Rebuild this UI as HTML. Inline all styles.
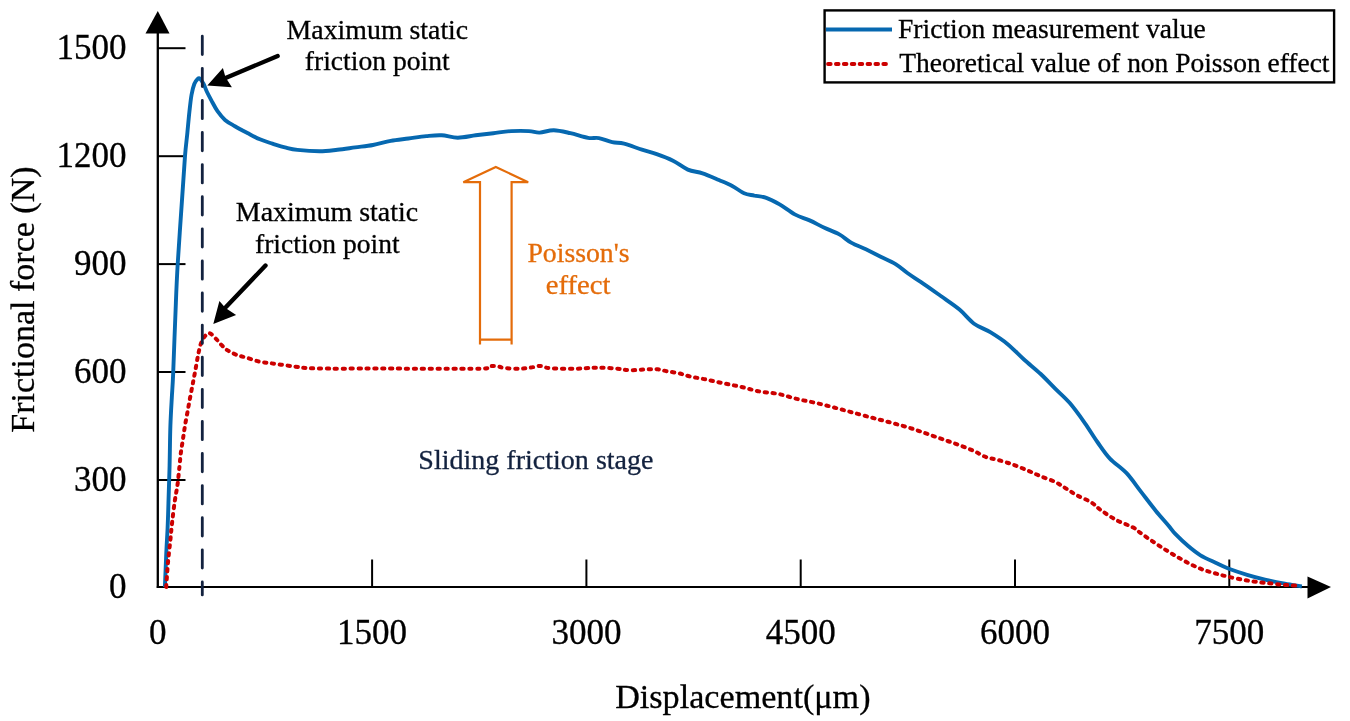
<!DOCTYPE html>
<html><head><meta charset="utf-8"><title>Frictional force vs displacement</title>
<style>
html,body{margin:0;padding:0;background:#fff;}
body{width:1350px;height:721px;overflow:hidden;}
svg{display:block;}
text{font-family:"Liberation Serif","Times New Roman",serif;fill:#000;stroke:#000;stroke-width:0.3px;}
.ax{font-size:35px;}
.tt{font-size:34px;}
.an{font-size:27.5px;}
.lg{font-size:27.7px;}
</style></head><body>
<svg width="1350" height="721" viewBox="0 0 1350 721">
<rect width="1350" height="721" fill="#fff"/>
<line x1="157.8" y1="30" x2="157.8" y2="588" stroke="#000" stroke-width="2.3"/>
<polygon points="145.5,33.5 169.5,33.5 157.8,11" fill="#000"/>
<line x1="156.8" y1="587" x2="1312" y2="587" stroke="#000" stroke-width="2.2"/>
<polygon points="1307.5,576.5 1307.5,598.5 1331,587" fill="#000"/>
<line x1="157.8" y1="48.2" x2="185.5" y2="48.2" stroke="#000" stroke-width="2"/>
<text x="126.5" y="58.8" class="ax" text-anchor="end">1500</text>
<line x1="157.8" y1="156.2" x2="185.5" y2="156.2" stroke="#000" stroke-width="2"/>
<text x="126.5" y="166.8" class="ax" text-anchor="end">1200</text>
<line x1="157.8" y1="264.1" x2="185.5" y2="264.1" stroke="#000" stroke-width="2"/>
<text x="126.5" y="274.7" class="ax" text-anchor="end">900</text>
<line x1="157.8" y1="372" x2="185.5" y2="372" stroke="#000" stroke-width="2"/>
<text x="126.5" y="382.6" class="ax" text-anchor="end">600</text>
<line x1="157.8" y1="480" x2="185.5" y2="480" stroke="#000" stroke-width="2"/>
<text x="126.5" y="490.6" class="ax" text-anchor="end">300</text>
<text x="126.5" y="597.6" class="ax" text-anchor="end">0</text>
<text x="157.8" y="644" class="ax" text-anchor="middle">0</text>
<line x1="372.1" y1="559.5" x2="372.1" y2="587" stroke="#000" stroke-width="2"/>
<text x="372.1" y="644" class="ax" text-anchor="middle">1500</text>
<line x1="586.4" y1="559.5" x2="586.4" y2="587" stroke="#000" stroke-width="2"/>
<text x="586.4" y="644" class="ax" text-anchor="middle">3000</text>
<line x1="800.7" y1="559.5" x2="800.7" y2="587" stroke="#000" stroke-width="2"/>
<text x="800.7" y="644" class="ax" text-anchor="middle">4500</text>
<line x1="1015.0" y1="559.5" x2="1015.0" y2="587" stroke="#000" stroke-width="2"/>
<text x="1015.0" y="644" class="ax" text-anchor="middle">6000</text>
<line x1="1229.3" y1="559.5" x2="1229.3" y2="587" stroke="#000" stroke-width="2"/>
<text x="1229.3" y="644" class="ax" text-anchor="middle">7500</text>
<path d="M164.9 587.0 C165.1 581.7 165.8 564.8 166.2 555.0 C166.6 545.2 167.2 537.0 167.6 528.0 C168.0 519.0 168.2 511.5 168.5 501.0 C168.8 490.5 169.3 477.6 169.6 465.0 C169.9 452.4 170.0 436.8 170.4 425.6 C170.8 414.4 171.3 406.6 171.8 397.8 C172.3 389.0 172.6 387.4 173.2 372.8 C173.8 358.2 174.8 328.1 175.6 310.0 C176.3 291.9 176.6 282.3 177.7 264.0 C178.8 245.7 180.8 218.0 182.0 200.0 C183.2 182.0 184.1 167.2 185.0 156.0 C185.9 144.8 186.7 139.9 187.4 132.5 C188.1 125.1 188.7 118.0 189.4 111.7 C190.1 105.5 190.7 99.6 191.5 95.0 C192.3 90.4 193.3 86.6 194.3 84.0 C195.3 81.4 196.6 80.1 197.5 79.2 C198.4 78.3 199.0 77.9 200.0 78.7 C201.0 79.5 202.3 81.6 203.5 83.8 C204.7 86.0 205.6 89.1 207.0 92.0 C208.4 94.9 210.1 98.0 211.8 101.2 C213.6 104.4 215.3 108.1 217.5 111.2 C219.7 114.3 222.1 117.4 225.0 119.9 C227.9 122.4 231.2 124.0 234.9 126.2 C238.6 128.4 243.2 130.8 247.4 133.0 C251.6 135.2 255.7 137.5 259.9 139.3 C264.1 141.1 268.2 142.3 272.4 143.7 C276.6 145.0 280.7 146.4 284.9 147.4 C289.1 148.4 291.6 149.3 297.4 149.9 C303.2 150.5 312.9 151.2 319.6 151.2 C326.3 151.2 331.5 150.4 337.4 149.8 C343.3 149.2 349.3 148.2 355.2 147.4 C361.1 146.6 367.1 146.1 373.0 145.0 C378.9 143.9 384.8 142.0 390.7 140.9 C396.6 139.8 402.6 139.3 408.5 138.5 C414.4 137.7 420.8 136.6 426.3 136.1 C431.8 135.6 436.4 135.0 441.7 135.3 C446.9 135.6 452.1 137.7 457.8 137.7 C463.5 137.7 469.7 136.1 475.6 135.3 C481.5 134.6 487.4 133.9 493.3 133.2 C499.2 132.5 505.2 131.4 511.1 131.1 C517.0 130.8 524.1 130.8 528.9 131.1 C533.6 131.3 535.5 132.8 539.6 132.6 C543.8 132.4 548.7 130.1 553.8 130.2 C558.9 130.3 564.7 131.9 570.4 133.2 C576.1 134.5 583.4 137.1 588.1 137.9 C592.9 138.7 594.9 137.4 598.9 138.1 C602.9 138.8 608.0 141.3 612.2 142.2 C616.4 143.1 619.2 142.5 624.1 143.7 C629.0 144.9 636.5 147.9 641.9 149.6 C647.3 151.3 651.5 152.2 656.7 154.1 C661.9 155.9 667.8 158.1 673.0 160.7 C678.2 163.3 682.9 167.5 687.8 169.6 C692.7 171.7 697.4 171.6 702.6 173.3 C707.8 175.0 714.0 177.9 718.9 180.0 C723.8 182.1 728.0 183.7 732.2 185.9 C736.4 188.1 740.4 191.7 744.1 193.3 C747.8 194.9 750.7 194.8 754.4 195.6 C758.1 196.3 762.1 196.3 766.3 197.8 C770.5 199.3 774.9 201.6 779.6 204.4 C784.4 207.2 789.8 211.7 794.8 214.4 C799.8 217.1 804.7 218.2 809.6 220.4 C814.5 222.6 819.5 225.5 824.4 227.8 C829.3 230.1 834.8 231.9 839.3 234.4 C843.8 236.9 846.7 240.1 851.1 242.6 C855.5 245.1 861.0 247.0 865.9 249.3 C870.8 251.7 875.8 254.2 880.7 256.7 C885.7 259.2 891.2 261.4 895.6 264.1 C900.0 266.8 903.2 270.0 907.4 273.0 C911.6 276.0 915.1 278.1 920.7 281.9 C926.3 285.7 934.3 291.4 940.8 296.0 C947.3 300.6 954.0 304.9 959.5 309.5 C965.0 314.1 968.9 319.9 974.1 323.7 C979.3 327.5 985.2 329.0 990.7 332.4 C996.2 335.8 1001.9 339.4 1007.4 343.9 C1012.9 348.4 1018.5 354.5 1024.0 359.5 C1029.5 364.5 1035.5 369.1 1040.7 374.0 C1045.9 378.9 1050.4 383.8 1055.2 388.6 C1060.0 393.5 1064.8 397.3 1069.8 403.1 C1074.8 408.9 1080.4 416.8 1085.0 423.3 C1089.6 429.8 1093.2 436.1 1097.4 442.0 C1101.6 447.9 1105.0 453.4 1109.9 458.6 C1114.8 463.8 1121.4 467.6 1126.6 473.2 C1131.8 478.8 1136.2 485.6 1141.1 491.9 C1145.9 498.1 1151.2 505.1 1155.7 510.7 C1160.2 516.2 1164.9 521.3 1168.2 525.2 C1171.5 529.1 1172.0 530.5 1175.3 533.9 C1178.6 537.3 1183.7 542.2 1187.9 545.8 C1192.1 549.4 1195.9 552.5 1200.5 555.3 C1205.1 558.1 1211.0 560.6 1215.6 562.8 C1220.2 565.0 1223.0 566.5 1228.2 568.5 C1233.5 570.5 1240.8 572.9 1247.1 574.8 C1253.4 576.7 1259.7 578.3 1266.0 579.8 C1272.3 581.3 1278.8 582.5 1284.8 583.6 C1290.8 584.7 1299.0 586.0 1301.8 586.5" fill="none" stroke="#0668b0" stroke-width="3.9" stroke-linecap="butt" stroke-linejoin="round"/>
<path d="M166.2 587.0 C166.5 582.9 167.3 570.0 168.0 562.3 C168.7 554.6 169.6 547.3 170.3 540.7 C171.0 534.1 171.3 529.3 172.1 522.7 C172.8 516.1 173.9 507.3 174.8 501.0 C175.7 494.7 176.7 490.4 177.5 484.8 C178.3 479.2 178.8 472.4 179.4 467.2 C180.0 461.9 180.2 457.9 180.8 453.3 C181.4 448.7 182.2 444.0 182.9 439.4 C183.6 434.8 184.2 430.5 185.0 425.6 C185.8 420.8 186.9 415.4 187.8 410.3 C188.7 405.2 189.7 399.9 190.6 395.0 C191.5 390.1 192.5 385.3 193.3 381.1 C194.1 376.9 194.6 374.2 195.4 370.0 C196.2 365.8 197.1 360.0 198.0 355.6 C198.9 351.2 199.7 347.0 200.9 343.7 C202.1 340.4 203.9 337.3 205.4 335.6 C206.9 333.9 208.1 332.8 209.8 333.3 C211.5 333.8 213.7 336.5 215.7 338.5 C217.7 340.5 219.7 343.2 221.7 345.2 C223.7 347.2 225.1 348.8 227.6 350.4 C230.1 352.0 233.3 353.6 236.5 354.8 C239.7 356.0 243.2 356.7 246.9 357.8 C250.6 358.9 255.0 360.6 258.7 361.5 C262.4 362.4 265.4 362.5 269.1 363.0 C272.8 363.5 276.5 364.1 280.9 364.7 C285.3 365.3 291.2 366.1 295.7 366.7 C300.1 367.3 302.2 367.8 307.6 368.1 C313.0 368.4 319.9 368.5 328.3 368.6 C336.7 368.7 347.1 368.6 358.0 368.6 C368.9 368.6 373.4 368.6 393.5 368.6 C413.6 368.6 462.8 369.1 478.9 368.7 C495.0 368.3 486.9 366.7 490.0 366.3 C493.1 365.9 494.9 366.0 497.4 366.3 C499.9 366.6 501.1 367.6 504.8 368.0 C508.5 368.4 515.3 368.8 519.6 368.7 C523.9 368.6 527.2 368.1 530.7 367.6 C534.2 367.1 537.8 365.8 540.9 365.9 C544.0 366.0 543.6 367.6 549.3 368.1 C555.0 368.6 567.8 368.8 575.2 368.7 C582.6 368.6 589.1 367.9 593.7 367.8 C598.3 367.7 599.0 367.7 603.0 367.8 C607.0 367.9 613.3 368.3 617.8 368.7 C622.3 369.1 624.9 370.1 630.0 370.2 C635.1 370.3 643.9 369.4 648.5 369.3 C653.1 369.2 654.7 369.0 657.8 369.3 C660.9 369.6 663.6 370.7 667.0 371.3 C670.4 371.9 674.4 372.3 678.1 373.1 C681.8 373.9 685.0 375.3 689.3 376.3 C693.6 377.3 698.5 378.0 704.1 379.1 C709.7 380.2 716.4 381.8 722.6 383.1 C728.8 384.4 734.9 385.5 741.1 386.9 C747.3 388.3 753.4 390.3 759.6 391.5 C765.8 392.7 771.9 392.7 778.1 393.9 C784.3 395.1 790.5 397.4 796.7 398.9 C802.9 400.4 809.0 401.4 815.2 402.8 C821.4 404.2 827.5 405.8 833.7 407.4 C839.9 409.0 846.1 410.8 852.2 412.4 C858.3 414.0 865.1 415.9 870.5 417.3 C875.9 418.7 879.9 419.7 884.8 421.0 C889.6 422.3 894.7 423.6 899.6 425.0 C904.5 426.4 909.5 427.8 914.4 429.4 C919.3 431.0 924.3 432.9 929.3 434.6 C934.2 436.3 939.2 438.1 944.1 439.8 C949.0 441.5 954.0 443.1 958.9 445.0 C963.8 446.9 969.2 448.9 973.7 450.9 C978.2 452.9 981.7 455.4 985.6 456.9 C989.5 458.4 993.0 458.6 997.4 459.8 C1001.8 461.0 1007.3 462.6 1012.2 464.3 C1017.1 466.0 1022.3 468.2 1027.0 470.2 C1031.7 472.2 1035.7 474.1 1040.4 476.1 C1045.1 478.1 1050.9 479.9 1055.2 482.0 C1059.5 484.1 1062.4 486.3 1066.0 488.5 C1069.6 490.7 1072.4 492.8 1076.6 495.1 C1080.8 497.4 1087.0 499.7 1091.2 502.3 C1095.4 504.9 1097.4 507.8 1101.6 510.7 C1105.8 513.6 1111.0 517.2 1116.2 520.0 C1121.4 522.8 1128.8 525.2 1132.8 527.3 C1136.8 529.4 1136.7 530.2 1140.0 532.6 C1143.3 535.0 1148.4 538.6 1152.6 541.4 C1156.8 544.2 1161.0 547.0 1165.2 549.6 C1169.4 552.2 1173.6 554.8 1177.8 557.2 C1182.0 559.6 1186.2 562.0 1190.4 564.1 C1194.6 566.2 1198.8 568.1 1203.0 569.7 C1207.2 571.3 1211.4 572.3 1215.6 573.5 C1219.8 574.7 1223.0 575.5 1228.2 576.7 C1233.5 577.9 1240.8 579.5 1247.1 580.5 C1253.4 581.5 1259.7 582.3 1266.0 583.0 C1272.3 583.7 1279.3 584.4 1284.8 584.9 C1290.2 585.4 1296.4 585.6 1298.7 585.7" fill="none" stroke="#cc0000" stroke-width="4" stroke-dasharray="2.3 5.6" stroke-linecap="round" stroke-linejoin="round"/>
<line x1="202.3" y1="36.2" x2="202.3" y2="594.9" stroke="#13223f" stroke-width="2.8" stroke-dasharray="18.3 13.8" stroke-linecap="round"/>
<line x1="277.7" y1="56.1" x2="222" y2="79.4" stroke="#000" stroke-width="4.3" stroke-linecap="round"/>
<polygon points="207.3,85.6 222.9,67.9 225.5,77.2 231.9,87.3" fill="#000"/>
<line x1="265.5" y1="265.5" x2="226" y2="307" stroke="#000" stroke-width="4.4" stroke-linecap="round"/>
<polygon points="213.3,324 219.4,301 225.5,308 236.1,314.9" fill="#000"/>
<path d="M480 344.5 L480 182.2 L463.3 182.2 L495.8 166.9 L528.2 182.2 L511.6 182.2 L511.6 344.5 M480 339.7 L511.6 339.7" fill="none" stroke="#e46c0a" stroke-width="2.2" stroke-linejoin="miter"/>
<rect x="824.6" y="10.4" width="509.5" height="72" fill="#fff" stroke="#000" stroke-width="2.4"/>
<line x1="826" y1="29.5" x2="892" y2="29.5" stroke="#0668b0" stroke-width="3.8"/>
<line x1="828" y1="64" x2="886" y2="64" stroke="#cc0000" stroke-width="3.8" stroke-dasharray="2.7 5.2" stroke-linecap="round"/>
<text id="a1" x="286.60" y="38.9" class="an" textLength="181.61" lengthAdjust="spacingAndGlyphs">Maximum static</text>
<text id="a2" x="304.80" y="70.3" class="an" textLength="144.86" lengthAdjust="spacingAndGlyphs">friction point</text>
<text id="a3" x="235.80" y="221.0" class="an" textLength="182.41" lengthAdjust="spacingAndGlyphs">Maximum static</text>
<text id="a4" x="255.00" y="252.7" class="an" textLength="144.66" lengthAdjust="spacingAndGlyphs">friction point</text>
<text id="p1" x="527.40" y="261.6" class="an" style="fill:#e46c0a;stroke:#e46c0a" textLength="102.15" lengthAdjust="spacingAndGlyphs">Poisson's</text>
<text id="p2" x="545.75" y="293.6" class="an" style="fill:#e46c0a;stroke:#e46c0a" textLength="64.83" lengthAdjust="spacingAndGlyphs">effect</text>
<text id="s1" x="418.38" y="468.9" class="an" style="fill:#13223f;stroke:#13223f" textLength="235.10" lengthAdjust="spacingAndGlyphs">Sliding friction stage</text>
<text id="d1" x="615.20" y="707.8" class="tt" textLength="255.37" lengthAdjust="spacingAndGlyphs">Displacement(μm)</text>
<text id="l1" x="898.00" y="38.4" class="lg" textLength="307.68" lengthAdjust="spacingAndGlyphs">Friction measurement value</text>
<text id="l2" x="899.20" y="72.4" class="lg" textLength="430.30" lengthAdjust="spacingAndGlyphs">Theoretical value of non Poisson effect</text>
<text transform="translate(33.6 299.6) rotate(-90)" class="tt" text-anchor="middle">Frictional force (N)</text>
</svg>
</body></html>
